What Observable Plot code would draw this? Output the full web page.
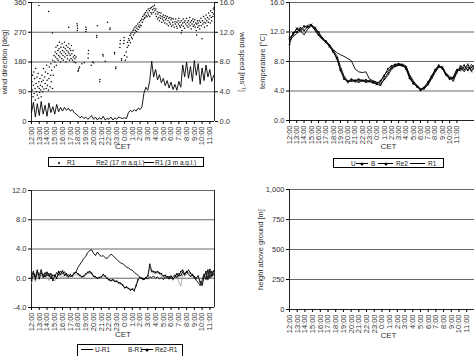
<!DOCTYPE html>
<html><head><meta charset="utf-8">
<script src="https://cdn.jsdelivr.net/npm/d3@7"></script>
<script src="https://cdn.jsdelivr.net/npm/@observablehq/plot@0.6"></script>
<style>
html,body{margin:0;padding:0;background:#fff;}
#wrap{position:relative;width:474px;height:356px;overflow:hidden;font-family:"Liberation Sans",Arial,sans-serif;color:#222;}
.panel{position:absolute;}
.panel svg{display:block;max-width:none !important;}
.legend{position:absolute;border:1px solid #000;box-sizing:border-box;background:#fff;}
.li{position:absolute;white-space:nowrap;font-size:6.5px;line-height:1;transform:translateY(-50%);color:#222;}
.ll{position:absolute;border-top:1px solid #000;height:0;}
.ld{position:absolute;width:3px;height:3px;border-radius:50%;background:#000;transform:translate(-50%,-50%);}
</style></head>
<body><div id="wrap"></div>
<script>
// ---------- data ----------
const tickHours = [0,1,2,3,4,5,6,7,8,9,10,11,12,13,14,15,16,17,18,19,20,21,22,23];
const tickLabels = ["12:00","13:00","14:00","15:00","16:00","17:00","18:00","19:00","20:00","21:00","22:00","23:00",
  "0:00","1:00","2:00","3:00","4:00","5:00","6:00","7:00","8:00","9:00","10:00","11:00"];
const dirTicks = [0,90,180,270,360];
const tempTicks = [0,4,8,12,16];
const dTTicks = [-4,0,4,8,12];
const heightTicks = [0,250,500,750,1000];

// hours after 12:00 CET, quarter-hour steps
const hoursQ = [0,0.25,0.5,0.75,1,1.25,1.5,1.75,2,2.25,2.5,2.75,3,3.25,3.5,3.75,4,4.25,4.5,4.75,5,5.25,5.5,5.75,
  6,6.25,6.5,6.75,7,7.25,7.5,7.75,8,8.25,8.5,8.75,9,9.25,9.5,9.75,10,10.25,10.5,10.75,11,11.25,11.5,11.75,
  12,12.25,12.5,12.75,13,13.25,13.5,13.75,14,14.25,14.5,14.75,15,15.25,15.5,15.75,16,16.25,16.5,16.75,17,17.25,17.5,17.75,
  18,18.25,18.5,18.75,19,19.25,19.5,19.75,20,20.25,20.5,20.75,21,21.25,21.5,21.75,22,22.25,22.5,22.75,23,23.25,23.5];
// half-hour steps (temperature panel)
const hoursH = [0,0.5,1,1.5,2,2.5,3,3.5,4,4.5,5,5.5,6,6.5,7,7.5,8,8.5,9,9.5,10,10.5,11,11.5,12,12.5,
  13,13.5,14,14.5,15,15.5,16,16.5,17,17.5,18,18.5,19,19.5,20,20.5,21,21.5,22,22.5,23,23.5,24,24.5,25,25.5];

// wind speed R1 (3 m a.g.l.) [m/s]
const speedR1 = [1.2,2.6,0.6,2.4,0.8,2.7,1.0,2.2,0.7,2.5,1.2,2.0,1.0,2.3,1.3,1.9,1.4,1.9,1.5,1.8,1.4,1.6,1.2,1.0,
  0.8,0.5,0.7,0.4,0.6,0.3,0.5,0.8,0.3,0.6,0.2,0.5,0.3,0.7,0.2,0.4,0.3,0.6,0.2,0.5,0.3,0.6,0.5,0.4,
  0.5,0.4,1.2,1.5,1.3,1.6,1.4,1.8,1.6,2.0,3.8,4.6,4.2,5.5,8.1,6.0,7.0,5.6,6.3,5.2,5.8,4.8,5.5,4.5,
  5.3,4.3,5.0,4.2,5.4,4.6,7.6,6.0,8.0,5.8,7.4,5.4,8.2,6.2,7.8,5.0,7.2,5.5,7.6,6.0,7.0,5.4,6.2];
// wind speed Re2 (17 m a.g.l.) isolated values [hour, m/s]
const speedRe2 = [[19.7,4.0],[22.7,4.0]];

// wind direction R1 [hour, deg]
const dirR1 = [
 [0.0,180],[0.05,120],[0.1,95],[0.15,140],[0.2,75],[0.25,110],[0.3,150],[0.35,85],[0.4,130],[0.45,100],[0.5,65],[0.55,160],
 [0.6,115],[0.65,90],[0.7,135],[0.75,80],[0.8,105],[0.85,145],[0.9,70],[0.95,120],[1.0,100],[1.05,88],[1.1,130],[1.15,110],
 [1.2,95],[1.25,75],[1.3,120],[1.35,140],[1.4,105],[1.45,90],
 [1.5,125],[1.55,160],[1.6,98],[1.7,135],[1.75,115],[1.8,150],[1.9,100],[1.95,170],[2.0,125],[2.05,110],[2.1,145],[2.2,95],
 [2.25,130],[2.3,165],[2.4,105],[2.45,140],[2.5,175],[2.55,120],[2.6,155],[2.7,100],[2.75,185],[2.8,140],[2.9,200],[2.95,165],
 [3.0,180],[3.05,210],[3.1,195],[3.15,225],[3.2,170],[3.25,205],[3.3,190],[3.35,230],[3.4,215],[3.45,185],[3.5,200],[3.55,220],
 [3.6,240],[3.65,195],[3.7,210],[3.75,180],[3.8,225],[3.85,205],[3.9,190],[3.95,235],[4.0,215],[4.05,200],[4.1,185],[4.15,225],
 [4.2,210],[4.25,240],[4.3,195],[4.35,220],[4.4,205],[4.45,180],[4.5,230],[4.55,215],[4.6,200],[4.65,190],[4.7,225],[4.75,210],
 [4.8,235],[4.85,205],[4.9,185],[4.95,220],[5.0,200],[5.05,215],[5.1,190],[5.15,230],[5.2,205],[5.3,185],[5.35,215],[5.4,195],
 [5.5,180],[5.55,200],[5.6,190],[5.7,178],[5.75,195],
 [0.95,351],[2.2,333],[2.7,268],[4.8,285],[5.9,275],[5.92,290],[5.95,282],[5.88,296],[7.0,272],[7.02,285],[7.05,278],
 [6.0,152],[6.1,160],[6.2,165],[6.05,155],[7.3,192],[7.32,205],[7.35,215],[7.7,170],[8.4,255],[8.42,260],[8.5,290],
 [8.8,120],[8.82,127],[9.2,203],[9.25,198],[9.8,300],[10.1,278],[10.15,283],[10.7,209],[10.72,204],[10.85,160],[10.9,165],
 [11.4,224],[11.42,235],[11.45,245],[11.6,185],[11.62,190],[11.9,236],[11.92,245],[11.95,254],[6.5,175],[6.8,178],
 [7.9,180],[9.5,182],[8.0,178],
 [12.0,200],[12.1,185],[12.2,210],[12.3,195],[12.35,225],[12.4,240],[12.5,230],[12.55,250],[12.6,245],[12.7,260],[12.75,238],
 [12.8,265],[12.9,255],[12.95,270],[13.0,250],[13.1,275],[13.15,262],[13.2,280],[13.3,268],[13.35,285],[13.4,275],[13.5,290],
 [13.55,272],[13.6,282],[13.7,295],[13.75,278],[13.8,288],[13.9,300],[13.95,285],[14.0,292],[14.1,305],[14.15,290],[14.2,310],
 [14.3,300],[14.35,318],[14.4,308],[14.5,322],[14.55,312],
 [14.6,325],[14.65,315],[14.7,330],[14.8,320],[14.85,335],[14.9,318],[15.0,328],[15.05,340],[15.1,322],[15.2,335],[15.25,318],
 [15.3,342],[15.4,330],[15.45,345],[15.5,325],[15.6,338],[15.65,348],[15.7,330],[15.8,342],[15.85,352],[15.9,335],[16.0,325],[16.05,340],
 [16.1,318],[16.2,332],[16.25,310],[16.3,325],[16.4,315],[16.45,330],[16.5,305],[16.6,320],[16.65,312],[16.7,328],[16.8,300],
 [16.85,318],[16.9,310],[17.0,322],[17.05,305],[17.1,315],[17.2,298],[17.25,320],[17.3,308],[17.4,312],[17.45,295],[17.5,318],
 [17.6,305],[17.65,290],[17.7,312],[17.8,300],[17.85,315],[17.9,295],[18.0,308],[18.05,288],[18.1,312],[18.2,300],[18.25,292],
 [18.3,310],[18.4,285],
 [18.5,302],[18.55,295],[18.6,310],[18.7,288],[18.75,300],[18.8,282],[18.9,305],[18.95,295],[19.0,312],[19.1,290],[19.15,300],
 [19.2,285],[19.3,305],[19.35,292],[19.4,275],[19.5,298],[19.55,310],[19.6,288],[19.7,300],[19.75,282],[19.8,305],[19.9,295],
 [20.0,312],[20.05,290],[20.1,300],[20.2,285],[20.25,305],[20.3,295],[20.4,315],[20.45,290],[20.5,300],[20.6,280],[20.65,305],
 [20.7,295],[20.8,310],[20.85,288],[20.9,302],[21.0,292],[21.05,308],[21.1,285],[21.2,298],[21.25,275],[21.3,295],[21.4,305],
 [21.45,285],[21.5,298],
 [21.6,290],[21.65,305],[21.7,280],[21.8,300],[21.85,312],[21.9,290],[22.0,250],[22.05,305],[22.1,295],[22.2,318],[22.25,300],
 [22.3,285],[22.4,310],[22.45,298],[22.5,322],[22.6,305],[22.65,290],[22.7,315],[22.8,300],[22.85,328],[22.9,310],[23.0,320],
 [23.05,298],[23.1,335],[23.2,315],[23.25,305],[23.3,330],[23.4,318],[23.45,340],[23.5,325],[23.55,345],[19.3,268],[21.3,262]
];

// temperatures [°C], half-hour steps
const tempU   = [11.0,11.8,12.4,12.1,12.6,12.9,13.0,12.2,11.5,11.0,10.6,10.1,9.6,9.2,8.9,8.7,8.4,8.1,7.0,6.6,6.5,6.6,5.6,5.4,5.2,5.0,
  5.5,6.1,6.9,7.3,7.5,7.6,7.4,6.2,5.4,4.7,4.2,4.5,5.0,5.9,6.8,7.4,7.1,6.1,5.7,5.9,7.0,6.7,7.3,6.9,7.6,7.0];
const tempB   = [10.3,11.9,12.0,12.6,12.2,12.7,12.9,12.5,11.6,11.2,10.8,10.2,9.4,8.5,6.8,5.6,5.3,5.6,5.4,5.6,5.4,5.5,5.3,5.2,5.0,5.4,
  6.0,7.0,7.4,7.6,7.7,7.6,7.0,5.7,5.0,4.6,4.1,4.5,5.2,6.0,6.9,7.5,7.0,6.3,5.6,5.8,6.8,7.0,7.5,6.8,7.2,7.6];
const tempRe2 = [11.2,11.6,12.5,12.3,12.8,12.6,13.0,12.6,12.0,11.2,10.6,10.0,9.3,8.4,6.9,5.8,5.2,5.4,5.3,5.2,5.4,5.2,5.3,5.1,4.9,4.8,
  5.6,6.4,7.1,7.4,7.5,7.4,7.2,5.9,5.1,4.6,4.2,4.3,4.9,5.8,6.7,7.3,7.2,6.2,5.8,5.4,6.5,7.4,6.9,7.6,6.7,7.3];
const tempR1  = [10.8,11.4,11.8,12.2,11.6,12.4,12.8,12.3,11.9,11.1,10.7,10.3,9.5,8.8,7.3,6.0,5.4,5.3,5.5,5.4,5.5,5.3,5.4,5.3,5.1,5.2,
  6.2,6.7,7.2,7.5,7.6,7.5,7.3,6.0,5.2,4.8,4.3,4.4,4.8,5.6,6.5,7.2,7.3,6.4,6.0,5.6,6.6,7.2,6.6,7.3,6.8,7.4];

// temperature differences [K], quarter-hour steps
const dtU = [0.3,1.0,-0.2,0.9,0.4,1.2,0.1,0.8,0.3,0.7,-0.1,0.5,0.2,0.8,0.4,1.0,0.6,0.9,0.3,0.5,0.2,0.4,0.6,0.9,
  1.5,1.9,2.3,2.7,3.0,3.5,3.8,3.9,3.4,3.1,3.6,3.2,3.0,3.1,2.8,2.7,3.0,3.3,3.1,2.8,2.6,2.3,2.1,2.0,
  1.8,1.5,1.4,1.2,1.1,0.8,0.6,0.4,0.1,-0.1,-0.2,0.0,-0.1,0.2,0.1,0.3,0.0,0.2,-0.1,0.1,-0.2,0.2,0.0,0.3,
  -0.1,0.2,0.5,0.1,0.7,0.3,0.9,0.4,1.0,0.5,0.2,0.6,0.0,-0.3,-0.6,-1.0,-0.3,0.6,-0.2,1.2,0.0,1.0,0.4];
const dtB = [-0.7,0.3,-0.5,0.5,-0.2,0.4,0.0,0.6,0.1,-0.3,0.3,0.0,-0.4,0.2,0.5,0.1,0.3,0.0,0.2,0.1,0.3,0.2,0.4,0.5,
  0.4,0.3,0.1,0.2,0.4,0.6,0.7,0.5,0.2,0.1,-0.1,0.0,0.1,0.3,0.2,-0.1,-0.3,-0.4,-0.3,-0.5,-0.5,-0.7,-0.8,-1.0,
  -1.2,-1.3,-1.3,-1.5,-1.4,-1.5,-0.8,-0.1,0.0,-0.1,-0.2,0.0,0.2,1.5,0.8,0.7,0.6,0.7,0.5,0.4,0.1,0.2,0.0,-0.2,
  0.1,-0.3,0.0,0.3,-0.5,-1.1,0.6,0.3,0.5,0.8,0.4,0.1,0.0,-0.2,0.1,-0.7,-1.1,0.0,0.6,-0.3,0.9,0.1,0.7];
const dtRe2 = [-0.3,0.6,0.2,1.1,0.0,0.7,0.5,0.2,0.8,0.3,0.6,-0.3,0.4,0.0,0.9,0.5,1.0,0.4,0.6,0.2,0.5,0.3,0.7,0.8,
  0.6,0.4,0.2,0.3,0.6,0.8,0.9,0.7,0.3,0.2,0.0,0.1,0.2,0.5,0.3,0.0,-0.2,-0.3,-0.2,-0.4,-0.4,-0.6,-0.7,-0.9,
  -1.3,-1.2,-1.4,-1.6,-1.5,-1.7,-1.0,-0.2,0.1,0.0,-0.1,0.1,0.3,1.9,1.0,0.9,0.8,0.9,0.7,0.6,0.3,0.4,0.2,0.0,
  0.3,-0.1,0.2,0.6,0.3,0.9,1.1,0.6,0.8,1.1,0.7,0.4,0.2,0.0,0.3,-0.5,-0.9,0.2,0.9,-0.1,1.2,0.3,1.0];

// ---------- helpers ----------
const FONT = '"Liberation Sans", Arial, sans-serif';
const GRID = "#666";
const wrap = document.getElementById("wrap");
const fmtHour = d => tickLabels[tickHours.indexOf(d)];
const baseStyle = {background:"transparent", fontFamily:FONT, fontSize:"7.5px", color:"#333", maxWidth:"none", overflow:"visible"};

function place(svg, left, top, w) {
  const d = document.createElement("div");
  d.className = "panel";
  d.style.left = left + "px"; d.style.top = top + "px"; d.style.width = w + "px";
  d.appendChild(svg); wrap.appendChild(d);
}
function xAxis() {
  return Plot.axisX({ticks: tickHours, tickFormat: fmtHour, tickRotate: -90, tickSize: 3, tickPadding: 2, label: null, stroke: "#000"});
}
function legend(left, top, width, height, items) {
  const box = document.createElement("div");
  box.className = "legend";
  Object.assign(box.style, {left: left + "px", top: top + "px", width: width + "px", height: height + "px"});
  const cy = 4;
  for (const it of items) {
    if (it.type === "text") {
      const s = document.createElement("span"); s.className = "li"; s.textContent = it.text;
      s.style.left = (it.x - left) + "px"; s.style.top = (cy + 0.5) + "px"; box.appendChild(s);
    } else if (it.type === "line" || it.type === "linedot") {
      const l = document.createElement("div"); l.className = "ll";
      l.style.left = (it.x - left) + "px"; l.style.width = it.w + "px"; l.style.top = cy + "px"; box.appendChild(l);
      if (it.type === "linedot") {
        const d = document.createElement("div"); d.className = "ld";
        d.style.left = (it.x - left + it.w / 2) + "px"; d.style.top = (cy + 0.5) + "px"; box.appendChild(d);
      }
    } else if (it.type === "dot") {
      const d = document.createElement("div"); d.className = "ld";
      d.style.width = "2px"; d.style.height = "2px";
      d.style.left = (it.x - left) + "px"; d.style.top = (cy + 0.5) + "px"; box.appendChild(d);
    }
  }
  wrap.appendChild(box);
}

// ---------- panel 1: wind direction / wind speed ----------
const speedRows = hoursQ.map((h, i) => ({h, s: speedR1[i]}));
const spd = 360 / 16;
const p1 = Plot.plot({
  width: 250, height: 160, marginLeft: 31, marginRight: 36, marginTop: 2, marginBottom: 39,
  style: baseStyle,
  x: {domain: [0, 23.6]},
  y: {domain: [0, 360]},
  marks: [
    Plot.ruleY(dirTicks.filter(d => d > 0), {stroke: GRID, strokeWidth: 1.2}),
    Plot.ruleX([0, 23.6], {stroke: "#222", strokeWidth: 1}),
    Plot.ruleY([0], {stroke: "#222", strokeWidth: 1}),
    Plot.dot(dirR1, {x: d => d[0], y: d => d[1], r: 0.75, fill: "#000"}),
    Plot.dot(speedRe2, {x: d => d[0], y: d => d[1] * spd, r: 0.6, fill: "#888"}),
    Plot.line(speedRows, {x: "h", y: d => d.s * spd, stroke: "#000", strokeWidth: 0.9}),
    Plot.axisY({ticks: dirTicks, anchor: "left", tickSize: 3, tickPadding: 2, label: null, stroke: "#000"}),
    Plot.axisY({ticks: dirTicks, anchor: "right", tickSize: 3, tickPadding: 2, label: null, stroke: "#000",
      tickFormat: d => (d / spd).toFixed(1)}),
    xAxis(),
    Plot.text(["CET"], {frameAnchor: "bottom", dy: 27, fontSize: 8}),
    Plot.text(["wind direction [deg]"], {frameAnchor: "left", dx: -27, rotate: -90, textAnchor: "middle"}),
    Plot.text(["wind speed [ms\u207B\u00B9]"], {frameAnchor: "right", dx: 28, rotate: 90, textAnchor: "middle"})
  ]
});
place(p1, 0, 0, 250);

// ---------- panel 2: temperatures ----------
const tempRows = hoursH.map((h, i) => ({h, U: tempU[i], B: tempB[i], Re2: tempRe2[i], R1: tempR1[i]}));
const p2 = Plot.plot({
  width: 250, height: 160, marginLeft: 52, marginRight: 0, marginTop: 2, marginBottom: 40,
  style: baseStyle,
  x: {domain: [0, 27.2]},
  y: {domain: [0, 16]},
  marks: [
    Plot.ruleY(tempTicks.filter(d => d > 0), {stroke: GRID, strokeWidth: 1.2}),
    Plot.ruleX([0], {stroke: "#222"}),
    Plot.ruleY([0], {stroke: "#222"}),
    Plot.line(tempRows, {x: "h", y: "R1", stroke: "#000", strokeWidth: 0.9}),
    Plot.line(tempRows, {x: "h", y: "Re2", stroke: "#000", strokeWidth: 0.9}),
    Plot.dot(tempRows, {x: "h", y: "Re2", r: 1, symbol: "times", stroke: "#000", strokeWidth: 0.7}),
    Plot.line(tempRows, {x: "h", y: "B", stroke: "#000", strokeWidth: 0.9}),
    Plot.dot(tempRows, {x: "h", y: "B", r: 0.9, fill: "#000"}),
    Plot.line(tempRows, {x: "h", y: "U", stroke: "#000", strokeWidth: 0.9}),
    Plot.axisY({ticks: tempTicks, anchor: "left", tickSize: 3, tickPadding: 2, label: null, stroke: "#000",
      tickFormat: d => d.toFixed(1)}),
    xAxis(),
    Plot.text(["CET"], {frameAnchor: "bottom", dy: 28, fontSize: 8}),
    Plot.text(["temperature [\u00B0C]"], {frameAnchor: "left", dx: -27, rotate: -90, textAnchor: "middle"})
  ]
});
place(p2, 237, 0, 250);

// ---------- panel 3: temperature differences ----------
const dtRows = hoursQ.map((h, i) => ({h, U: dtU[i], B: dtB[i], Re2: dtRe2[i]}));
const p3 = Plot.plot({
  width: 250, height: 162, marginLeft: 31, marginRight: 36, marginTop: 12, marginBottom: 33,
  style: baseStyle,
  x: {domain: [0, 23.6]},
  y: {domain: [-4, 12]},
  marks: [
    Plot.ruleY(dTTicks.filter(d => d > -4), {stroke: GRID, strokeWidth: 1.2}),
    Plot.ruleX([0, 23.6], {stroke: "#222"}),
    Plot.ruleY([-4], {stroke: "#222"}),
    Plot.line(dtRows, {x: "h", y: "B", stroke: "#999", strokeWidth: 0.8}),
    Plot.line(dtRows, {x: "h", y: "U", stroke: "#000", strokeWidth: 0.9}),
    Plot.line(dtRows, {x: "h", y: "Re2", stroke: "#000", strokeWidth: 0.9}),
    Plot.dot(dtRows, {x: "h", y: "Re2", r: 0.8, fill: "#000"}),
    Plot.axisY({ticks: dTTicks, anchor: "left", tickSize: 3, tickPadding: 2, label: null, stroke: "#000",
      tickFormat: d => d.toFixed(1)}),
    xAxis(),
    Plot.text(["CET"], {frameAnchor: "bottom", dy: 29, fontSize: 8})
  ]
});
{
  const t = d3.select(p3).append("text")
    .attr("transform", "translate(4,248) rotate(-90)")
    .attr("text-anchor", "middle").attr("fill", "#333").attr("font-size", 7.5);
  t.append("tspan").text("dT");
  t.append("tspan").attr("font-size", 5.5).attr("dy", 2).text(" U-R");
  t.append("tspan").attr("dy", -2).text(" [K]");
}
place(p3, 0, 178, 250);

// ---------- panel 4: height (empty) ----------
const p4 = Plot.plot({
  width: 250, height: 162, marginLeft: 52, marginRight: 0, marginTop: 11, marginBottom: 31,
  style: baseStyle,
  x: {domain: [0, 25.7]},
  y: {domain: [0, 1000]},
  marks: [
    Plot.ruleY(heightTicks.filter(d => d > 0), {stroke: GRID, strokeWidth: 1.2}),
    Plot.ruleX([0], {stroke: "#222"}),
    Plot.ruleY([0], {stroke: "#222"}),
    Plot.axisY({ticks: heightTicks, anchor: "left", tickSize: 3, tickPadding: 2, label: null, stroke: "#000"}),
    xAxis(),
    Plot.text(["CET"], {frameAnchor: "bottom", dy: 28, fontSize: 8}),
    Plot.text(["height above ground [m]"], {frameAnchor: "left", dx: -29, rotate: -90, textAnchor: "middle"})
  ]
});
place(p4, 237, 178, 250);

// ---------- legends ----------
legend(48, 157, 156, 10, [
  {type: "dot", x: 58}, {type: "text", x: 66, text: "R1"},
  {type: "text", x: 95, text: "Re2 (17 m a.g.l.)"},
  {type: "line", x: 143, w: 10}, {type: "text", x: 154, text: "R1 (3 m a.g.l.)"}
]);
legend(333, 158, 111, 10, [
  {type: "text", x: 350, text: "U"},
  {type: "linedot", x: 355, w: 12}, {type: "text", x: 370, text: "B"},
  {type: "linedot", x: 377, w: 15}, {type: "text", x: 395, text: "Re2"},
  {type: "line", x: 409, w: 15}, {type: "text", x: 427, text: "R1"}
]);
legend(77, 344, 106, 14, [
  {type: "line", x: 80, w: 12}, {type: "text", x: 94, text: "U-R1"},
  {type: "text", x: 127, text: "B-R1"},
  {type: "linedot", x: 140, w: 12}, {type: "text", x: 154, text: "Re2-R1"}
]);
</script>
</body></html>
